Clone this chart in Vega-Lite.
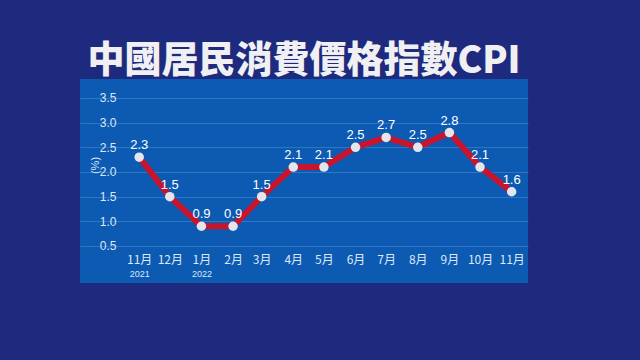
{
  "$schema": "https://vega.github.io/schema/vega-lite/v6.json",
  "width": 448,
  "height": 204,
  "autosize": {"type": "none"},
  "padding": {"left": 80, "top": 79, "right": 112, "bottom": 77},
  "background": "#1e2a7e",
  "title": {
    "text": "中國居民消費價格指數CPI",
    "font": "Noto Sans CJK TC",
    "fontSize": 37,
    "fontWeight": 900,
    "color": "#f0f0f2",
    "anchor": "middle",
    "offset": -2
  },
  "config": {
    "view": {"fill": "#0c5ab2", "stroke": null},
    "axis": {"labelFont": "Liberation Sans", "labelColor": "#dfe8f5", "domain": false, "ticks": false}
  },
  "data": {
    "values": [
      {"month": "2021-11-01", "cpi": 2.3},
      {"month": "2021-12-01", "cpi": 1.5},
      {"month": "2022-01-01", "cpi": 0.9},
      {"month": "2022-02-01", "cpi": 0.9},
      {"month": "2022-03-01", "cpi": 1.5},
      {"month": "2022-04-01", "cpi": 2.1},
      {"month": "2022-05-01", "cpi": 2.1},
      {"month": "2022-06-01", "cpi": 2.5},
      {"month": "2022-07-01", "cpi": 2.7},
      {"month": "2022-08-01", "cpi": 2.5},
      {"month": "2022-09-01", "cpi": 2.8},
      {"month": "2022-10-01", "cpi": 2.1},
      {"month": "2022-11-01", "cpi": 1.6}
    ]
  },
  "encoding": {
    "y": {
      "field": "cpi",
      "type": "quantitative",
      "scale": {"domain": [-0.25, 3.885], "nice": false, "zero": false},
      "axis": {
        "values": [0.5, 1.0, 1.5, 2.0, 2.5, 3.0, 3.5],
        "format": ".1f",
        "offset": -40,
        "labelPadding": 4,
        "labelFontSize": 12,
        "grid": true,
        "gridColor": "#5a96e0",
        "gridOpacity": 0.45,
        "gridWidth": 1,
        "title": "(%)",
        "titleFont": "Liberation Sans",
        "titleFontSize": 11,
        "titleFontWeight": "normal",
        "titleColor": "#dfe8f5",
        "titleAngle": -90,
        "titleBaseline": "middle",
        "titleAlign": "center",
        "titleX": -25,
        "titleY": 86
      }
    }
  },
  "layer": [
    {
      "mark": {"type": "line", "color": "#c8142c", "strokeWidth": 6},
      "encoding": {
        "x": {
          "field": "month",
          "type": "temporal",
          "scale": {"domain": ["2021-09-04", "2022-11-17"]},
          "axis": {
            "values": [
              {"year": 2021, "month": 11, "date": 1},
              {"year": 2021, "month": 12, "date": 1},
              {"year": 2022, "month": 1, "date": 1},
              {"year": 2022, "month": 2, "date": 1},
              {"year": 2022, "month": 3, "date": 1},
              {"year": 2022, "month": 4, "date": 1},
              {"year": 2022, "month": 5, "date": 1},
              {"year": 2022, "month": 6, "date": 1},
              {"year": 2022, "month": 7, "date": 1},
              {"year": 2022, "month": 8, "date": 1},
              {"year": 2022, "month": 9, "date": 1},
              {"year": 2022, "month": 10, "date": 1},
              {"year": 2022, "month": 11, "date": 1}
            ],
            "labelExpr": "(month(datum.value) + 1) + '月'",
            "labelFont": "Noto Sans CJK TC",
            "labelFontSize": 12,
            "labelPadding": 1,
            "orient": "bottom",
            "offset": -30,
            "grid": false,
            "title": null
          }
        }
      }
    },
    {
      "mark": {"type": "point", "filled": true, "color": "#e4e6ee", "size": 90, "opacity": 1},
      "encoding": {
        "x": {
          "field": "month",
          "type": "temporal",
          "axis": {
            "values": [
              {"year": 2021, "month": 11, "date": 1},
              {"year": 2022, "month": 1, "date": 1}
            ],
            "labelExpr": "'' + year(datum.value)",
            "labelFontSize": 9,
            "labelPadding": 16,
            "orient": "bottom",
            "offset": -30,
            "grid": false,
            "title": null
          }
        }
      }
    },
    {
      "mark": {"type": "text", "color": "#ffffff", "fontSize": 13, "font": "Liberation Sans", "baseline": "bottom", "dy": -5},
      "encoding": {
        "x": {"field": "month", "type": "temporal", "axis": null},
        "text": {"field": "cpi", "type": "quantitative", "format": ".1f"}
      }
    }
  ],
  "resolve": {"axis": {"x": "independent"}}
}
